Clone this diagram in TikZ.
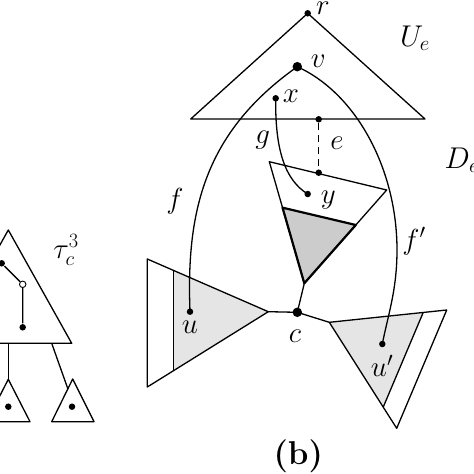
\RequirePackage{fix-cm}
\documentclass[tikz,border=0pt]{standalone}
\usepackage{tikz}
\usetikzlibrary{calc}
\definecolor{lightshade}{gray}{0.9}
\definecolor{darkshade}{gray}{0.8}

\tikzset{
  dot/.style={circle, fill=black, inner sep=0pt, minimum size=6.5pt},
  bigdot/.style={circle, fill=black, inner sep=0pt, minimum size=9.5pt},
  hollowdot/.style={circle, draw=black, fill=white, inner sep=0pt, minimum size=6.5pt, line width=0.9pt},
  lbl/.style={font=\fontsize{29}{34}\selectfont, inner sep=0pt},
  biglbl/.style={font=\fontsize{30}{35}\selectfont, inner sep=0pt},
}

\begin{document}
\begin{tikzpicture}[x=1pt, y=-1pt, line width=1.3pt, line join=round]
  \useasboundingbox (0,0) rectangle (474,474);

  % Tree tau_c^3 (cut at the left)
  \coordinate (ta) at (8.3,230);
  \coordinate (tl) at (-55,343.3);
  \coordinate (tr) at (71.7,343.3);
  \draw (tl) -- (ta) -- (tr) -- cycle;
  \node[dot] (t1) at (1.7,263.3) {};
  \node[hollowdot] (t2) at (22.7,284.3) {};
  \node[dot] (t3) at (22.7,327.3) {};
  \draw (t1) -- (t2) -- (t3);
  \node[lbl] at (66,250) {$\tau_c^3$};

  % Subtrees below tau_c^3
  \coordinate (sa1) at (8.3,379.3);
  \coordinate (sl1) at (-13.4,421.7);
  \coordinate (sr1) at (30,421.7);
  \draw (sa1) -- (sl1) -- (sr1) -- cycle;
  \node[dot] (s1) at (8.3,406.7) {};
  \coordinate (sa2) at (72.7,379);
  \coordinate (sl2) at (51.7,421.7);
  \coordinate (sr2) at (94,421.7);
  \draw (sa2) -- (sl2) -- (sr2) -- cycle;
  \node[dot] (s2) at (72,406.7) {};
  \coordinate (tb1) at (8.3,343.3);
  \coordinate (tb2) at (51.7,343.3);
  \coordinate (se2) at ($(sa2)!0.23!(sl2)$);
  \draw (tb1) -- (sa1);
  \draw (tb2) -- (se2);

  % Tree U_e
  \coordinate (ul) at (190.7,119);
  \coordinate (ur) at (425,119);
  \node[dot] (r) at (307.7,13.3) {};
  \draw (ul) -- (r.center) -- (ur) -- cycle;
  \node[lbl] at (323,8) {$r$};
  \node[biglbl] at (415,38) {$U_e$};
  \node[bigdot] (v) at (297.3,66.7) {};
  \node[lbl] at (318.3,61) {$v$};
  \node[dot] (x) at (275.7,98.3) {};
  \node[lbl] at (291,96) {$x$};

  % Subtree with y, shaded part at the bottom
  \coordinate (ml) at (269.3,161.7);
  \coordinate (mr) at (386.7,190);
  \coordinate (mb) at (304.3,283.3);
  \coordinate (gl) at ($(ml)!0.378!(mb)$);
  \coordinate (gr) at ($(mr)!0.375!(mb)$);
  \fill[darkshade] (gl) -- (gr) -- (mb) -- cycle;
  \draw (ml) -- (mr) -- (mb) -- cycle;
  \draw[line width=2.2pt] (gl) -- (gr) -- (mb) -- cycle;
  \node[dot] (y) at (307.7,194) {};
  \node[lbl] at (328.3,200) {$y$};

  % Edge e
  \node[dot] (etop) at (318.7,119.3) {};
  \node[dot] (ebot) at (318.7,172.7) {};
  \draw[dash pattern=on 7pt off 5pt] (etop) -- (ebot);
  \node[lbl] at (337,143) {$e$};

  % Left subtree with u
  \coordinate (lt) at (147.3,259);
  \coordinate (la) at (268.3,311.7);
  \coordinate (lb) at (147.3,387);
  \coordinate (lit) at ($(lt)!0.215!(la)$);
  \coordinate (lib) at ($(lb)!0.215!(la)$);
  \fill[lightshade] (lit) -- (la) -- (lib) -- cycle;
  \draw (lt) -- (la) -- (lb) -- cycle;
  \draw (lit) -- (lib);
  \node[dot] (u) at (190,311.7) {};
  \node[lbl] at (190,327) {$u$};

  % Right subtree with u'
  \coordinate (rl) at (329.3,322.3);
  \coordinate (rt) at (446.7,310);
  \coordinate (rb) at (396.7,428.3);
  \coordinate (rit) at ($(rl)!0.8!(rt)$);
  \coordinate (rib) at ($(rl)!0.8!(rb)$);
  \fill[lightshade] (rl) -- (rit) -- (rib) -- cycle;
  \draw (rl) -- (rt) -- (rb) -- cycle;
  \draw (rit) -- (rib);
  \node[dot] (up) at (382.3,344) {};
  \node[lbl] at (382,366) {$u'$};

  % Centroid c
  \node[bigdot] (c) at (297.3,312.3) {};
  \draw (mb) -- (c.center);
  \draw (la) -- (c.center) -- (rl);
  \node[lbl] at (295,336) {$c$};

  % Edges f, f' and g
  \coordinate (fbend) at (397,250);
  \draw (v.center) .. controls (205,132) and (186,210) .. (u.center);
  \draw (v.center) .. controls (357,94) and (397,170) .. (fbend)
        .. controls (397,290) and (388,315) .. (up.center);
  \draw (x.center) .. controls (275,150) and (285,180) .. (y.center);
  \node[lbl] at (175,201) {$f$};
  \node[lbl] at (414,241) {$f'$};
  \node[lbl] at (262.7,140) {$g$};
  \node[biglbl, anchor=west] at (444,160) {$D_e$};

  \node[font=\fontsize{33}{38}\selectfont\bfseries] at (298.3,456) {(b)};
\end{tikzpicture}
\end{document}
